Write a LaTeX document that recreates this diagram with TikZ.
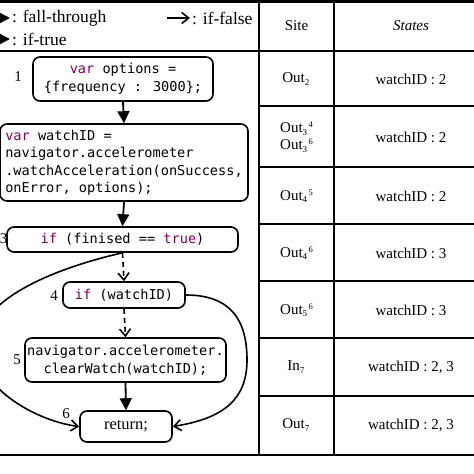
\documentclass[tikz,border=0pt]{standalone}
\usepackage{fontspec}
\setmainfont{Liberation Serif}
\newfontfamily\codefont{DejaVu Sans Mono}
\usetikzlibrary{arrows.meta}
\definecolor{kwcolor}{RGB}{127,0,85}
\newcommand{\kw}[1]{\textcolor{kwcolor}{#1}}
% site name with sub- and superscript
\newcommand{\sitelbl}[3]{#1\raisebox{-2.5pt}{\fontsize{9}{9}\selectfont #2}\raisebox{5pt}{\fontsize{8.5}{9}\selectfont\,#3}}

\begin{document}
\begin{tikzpicture}
[x=1pt,y=-1pt,
 codenode/.style={draw,rounded corners=7pt,line width=1.6pt,inner sep=2pt,font=\codefont\fontsize{13.6}{17.5}\selectfont},
 fall/.style={line width=1.8pt,-{Triangle[length=12pt,width=12pt]}},
 iftrue/.style={line width=1.6pt,dash pattern=on 5pt off 4pt,-{Straight Barb[length=7pt,width=11pt]}},
 iffalse/.style={line width=1.6pt,-{Straight Barb[length=7pt,width=11pt]}},
 numlabel/.style={font=\fontsize{15}{18}\selectfont},
 cell/.style={font=\fontsize{15}{18}\selectfont,align=center},
 legend/.style={anchor=west,inner sep=2pt,font=\fontsize{17.5}{20}\selectfont}]
\fill[white] (0,0) rectangle (474,474);
\useasboundingbox (0,0) rectangle (474,474);

% legend
\node (lgfall) at (10,18) [legend] {: fall-through};
\node (lgtrue) at (10,39) [legend] {: if-true};
\node (lgfalse) at (190,18) [legend] {: if-false};
\coordinate (lgfall0) at (-30,18);
\coordinate (lgtrue0) at (-30,39);
\coordinate (lgfalse0) at (167,18);
\draw [fall] (lgfall0) -- (lgfall.west);
\draw [fall,dash pattern=on 5pt off 4pt] (lgtrue0) -- (lgtrue.west);
\draw [iffalse] (lgfalse0) -- (lgfalse.west);

% statements
\node (s1) at (123,79) [codenode,minimum width=180pt,minimum height=44pt,align=center]
  {\kw{var} options =\\\{frequency : 3000\};};
\node (s2) at (124,162.5) [codenode,minimum width=248pt,minimum height=77pt,align=left,inner xsep=5pt]
  {\kw{var} watchID =\\navigator.accelerometer\\.watchAcceleration(onSuccess,\\onError, options);};
\node (s3) at (122.5,239.5) [codenode,minimum width=231pt,minimum height=25pt]
  {\kw{if} (finised == \kw{true})};
\node (s4) at (124,295) [codenode,minimum width=122pt,minimum height=26pt]
  {\kw{if} (watchID)};
\node (s5) at (125.5,360) [codenode,minimum width=201pt,minimum height=44pt,align=center,inner xsep=1pt]
  {navigator.accelerometer.\\clearWatch(watchID);};
\node (s6) at (126,426.5) [codenode,minimum width=92pt,minimum height=31pt,font=\fontsize{16.5}{19}\selectfont]
  {return;};

% statement numbers
\node (n1) at (18,77) [numlabel] {1};
\node (n3) at (3.5,239) [numlabel] {3};
\node (n4) at (54,296) [numlabel] {4};
\node (n5) at (17,360) [numlabel] {5};
\node (n6) at (66,414) [numlabel] {6};

% edges
\draw [fall] (s1.south) -- (s2.north);
\draw [fall] (s2.south) -- (s3.north);
\draw [iftrue] (s3.south) -- (s4.north);
\draw [iftrue] (s4.south) -- (s5.north);
\draw [fall] (s5.south) -- (s6.north);

\coordinate (lbend) at (-22,345);
\coordinate (rbend) at (247,360);
\draw [iffalse] (s3.south) .. controls +(-70,16) and +(0,-45) .. (lbend)
  .. controls +(0,45) and +(-40,-5) .. (s6.west);
\draw [iffalse] (s4.east) .. controls +(45,0) and +(0,-40) .. (rbend)
  .. controls +(0,40) and +(50,-8) .. (s6.east);

% table
\draw [line width=2.5pt] (-5,1.5) -- (480,1.5);
\draw [line width=2pt] (-5,51) -- (480,51);
\draw [line width=2pt] (-5,455) -- (480,455);
\draw [line width=2pt] (259,0) -- (259,455);
\draw [line width=2pt] (334,0) -- (334,455);
\foreach \yy in {106,167,224,281,338,396}
  \draw [line width=2pt] (259,\yy) -- (480,\yy);

\node (site0) at (296.5,26) [cell] {Site};
\node (state0) at (411,26) [cell] {\textit{States}};
\node (site1) at (296.5,79) [cell] {\sitelbl{Out}{2}{}};
\node (state1) at (411,79) [cell] {watchID : 2};
\node (site2) at (296.5,137) [cell] {\sitelbl{Out}{3}{4}\\[-1pt]\sitelbl{Out}{3}{6}};
\node (state2) at (411,137) [cell] {watchID : 2};
\node (site3) at (296.5,196) [cell] {\sitelbl{Out}{4}{5}};
\node (state3) at (411,196) [cell] {watchID : 2};
\node (site4) at (296.5,253) [cell] {\sitelbl{Out}{4}{6}};
\node (state4) at (411,253) [cell] {watchID : 3};
\node (site5) at (296.5,310) [cell] {\sitelbl{Out}{5}{6}};
\node (state5) at (411,310) [cell] {watchID : 3};
\node (site6) at (296.5,367) [cell] {\sitelbl{In}{7}{}};
\node (state6) at (411,367) [cell] {watchID : 2, 3};
\node (site7) at (296.5,425) [cell] {\sitelbl{Out}{7}{}};
\node (state7) at (411,425) [cell] {watchID : 2, 3};

\end{tikzpicture}
\end{document}
